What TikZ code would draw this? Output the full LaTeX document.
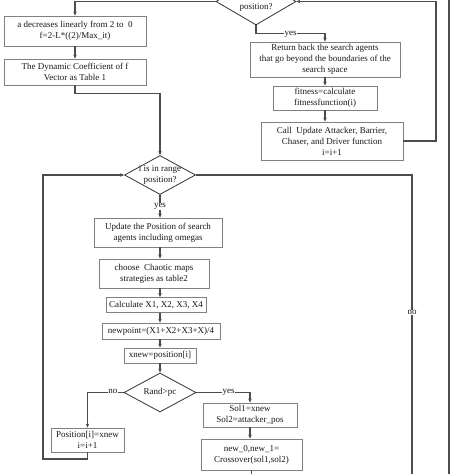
\documentclass[tikz,border=0pt]{standalone}
\usepackage{fontspec}
\setmainfont{Liberation Serif}
\usetikzlibrary{shapes.geometric,arrows.meta}

\begin{document}
\begin{tikzpicture}[x=1pt,y=-1pt,
    box/.style={draw=black!50,line width=0.8pt,fill=white,align=center,inner sep=1pt,text=black!90,font=\fontsize{9}{11}\selectfont},
    choice/.style={diamond,draw=black!80,line width=0.8pt,fill=white,inner sep=0pt},
    link/.style={draw=black!70,line width=1.1pt},
    tip/.style={-{Stealth[length=4pt,width=3.5pt]}},
    lbl/.style={fill=white,inner sep=0.6pt,text=black!90,font=\fontsize{9}{11}\selectfont}]
    \useasboundingbox (0,0) rectangle (474,474);
    \clip (0,0) rectangle (474,474);

    % Drawing left column boxes
    \node [box,minimum width=142pt,minimum height=30pt] (dec) at (75,31) {a decreases linearly from 2 to\ \ 0\\f=2-L*((2)/Max\_it)};
    \node [box,minimum width=142pt,minimum height=26pt] (dyn) at (75,72) {The Dynamic Coefficient of f\\Vector as Table 1};

    % Drawing top decision and right column boxes
    \node [choice,minimum width=80pt,minimum height=47pt,label={[lbl,fill=none,yshift=-5.5pt]center:position?}] (top) at (256,1.5) {};
    \node [box,minimum width=150pt,minimum height=35pt] (ret) at (325,59.5) {Return back the search agents\\that go beyond the boundaries of the\\search space};
    \node [box,minimum width=104pt,minimum height=24pt] (fit) at (325,98) {fitness=calculate\\fitnessfunction(i)};
    \node [box,minimum width=142pt,minimum height=38pt] (call) at (332,141) {Call\ \ Update Attacker, Barrier,\\Chaser, and Driver function\\i=i+1};

    % Drawing middle column
    \node [choice,minimum width=71pt,minimum height=39pt,label={[lbl,fill=none,align=center]center:i is in range\\position?}] (range) at (160,175) {};
    \node [box,minimum width=128pt,minimum height=29pt] (upd) at (158,232.5) {Update the Position of search\\agents including omegas};
    \node [box,minimum width=110pt,minimum height=29pt] (chaos) at (154,273.5) {choose\ \ Chaotic maps\\strategies as table2};
    \node [box,minimum width=100pt,minimum height=15pt] (calc) at (156,305) {Calculate X1, X2, X3, X4};
    \node [box,minimum width=118pt,minimum height=16pt] (newp) at (161,331) {newpoint=(X1+X2+X3+X)/4};
    \node [box,minimum width=72pt,minimum height=15pt] (xnew) at (160,355.5) {xnew=position[i]};
    \node [choice,minimum width=72pt,minimum height=39pt,label={[lbl,fill=none]center:Rand>pc}] (rand) at (160,392.5) {};
    \node [box,minimum width=73pt,minimum height=24pt] (pos) at (87.5,440) {Position[i]=xnew\\i=i+1};
    \node [box,minimum width=94pt,minimum height=24pt] (sol) at (250,415) {Sol1=xnew\\Sol2=attacker\_pos};
    \node [box,minimum width=101pt,minimum height=31pt] (cross) at (251.5,454.5) {new\_0,new\_1=\\Crossover(sol1,sol2)};

    % Loose ends of lines leaving the picture
    \coordinate (rloop) at (436,1.5);
    \coordinate (lloop) at (43,459);
    \coordinate (rno) at (412,477);
    \coordinate (bot) at (0,477);
    \coordinate (fartop) at (449,-3);
    \coordinate (farbot) at (449,477);

    % Drawing top connectors
    \draw [link,tip] (top.west) -| (dec.north);
    \node [lbl] (notop) at (193,-2.5) {no};
    \draw [link,tip] (dec) -- (dyn);
    \draw [link,tip] (dyn.south) -- ++(0,8) -| (range.north);
    \draw [link,tip] (top.south) -- ++(0,8.5) -| node [lbl,pos=0.25] {yes} (ret.north);
    \draw [link,tip] (ret) -- (fit);
    \draw [link,tip] (fit.south) -- (fit.south |- call.north);
    \draw [link,tip] (call.east) -| (rloop) -- (top.east);

    % Drawing middle connectors
    \draw [link,tip] (range.south) -- node [lbl] {yes} (upd.north -| range.south);
    \draw [link,tip] (upd.south -| range.south) -- (chaos.north -| range.south);
    \draw [link,tip] (chaos.south -| range.south) -- (calc.north -| range.south);
    \draw [link,tip] (calc.south -| range.south) -- (newp.north -| range.south);
    \draw [link,tip] (newp.south -| range.south) -- (xnew.north -| range.south);
    \draw [link,tip] (xnew.south -| range.south) -- (rand.north);
    \draw [link,tip] (rand.west) -| node [lbl,pos=0.15,yshift=1pt] {no} (pos.north);
    \draw [link,tip] (rand.east) -| node [lbl,pos=0.3] {yes} (sol.north);
    \draw [link,tip] (sol.south) -- (sol.south |- cross.north);
    \draw [link] (cross.south) -- (cross.south |- bot);
    \draw [link,tip] (pos.south) |- (lloop) |- (range.west);
    \draw [link] (range.east) -| node [lbl,pos=0.728] {no} (rno);
    \draw [link] (fartop) -- (farbot);
\end{tikzpicture}
\end{document}
